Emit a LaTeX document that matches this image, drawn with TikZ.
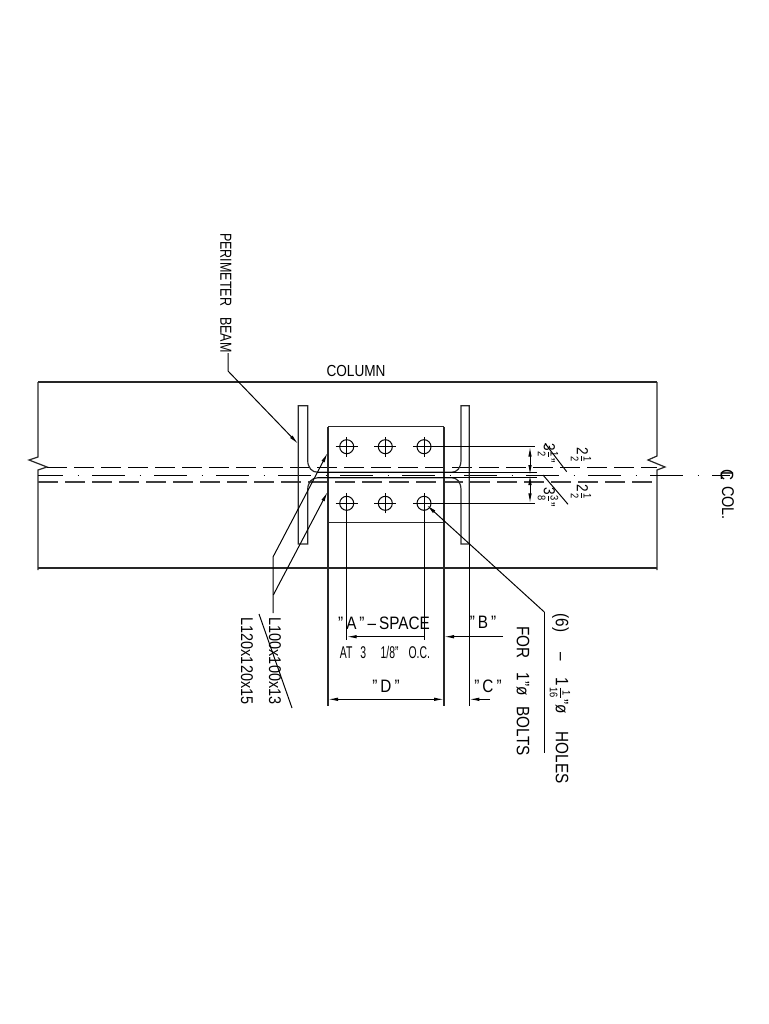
\documentclass[tikz,border=0pt]{standalone}
\usepackage{amsmath}
\usepackage{fontspec}
\setmainfont[FakeStretch=0.85]{Liberation Sans}
\usetikzlibrary{arrows.meta}
\tikzset{
  >={Latex[length=10pt,width=3.5pt]},
}
\tikzstyle{every node}=[inner sep=0pt,font=\fontsize{16}{16}\selectfont]
\tikzstyle{vlbl}=[rotate=-90]
\tikzstyle{big}=[font=\fontsize{18}{18}\selectfont]
\tikzstyle{hole}=[draw,line width=1pt,circle,minimum size=14pt]
\tikzstyle{obj}=[line width=1.2pt,black!85]
\tikzstyle{thin line}=[line width=1pt]
\tikzstyle{hidden}=[line width=1.2pt,dash pattern=on 20pt off 7pt]
\tikzstyle{center line}=[line width=1pt,dash pattern=on 33pt off 14.5pt on .5pt off 14pt,dash phase=8pt]
\newcommand{\frc}[2]{\ensuremath{\genfrac{}{}{.6pt}{}{\mbox{\fontsize{11}{11}\selectfont #1}}{\mbox{\fontsize{11}{11}\selectfont #2}}}}
\begin{document}
\begin{tikzpicture}[x=1pt,y=-1pt]
  \useasboundingbox (0,0) rectangle (768,1024);
  % column with break lines
  \draw[obj] (38,382)--(657,382);
  \draw[obj] (38,568)--(657,568);
  \draw[obj] (38,382)--(38,457)--(29,460)--(47,467)--(38,470)--(38,570);
  \draw[obj] (657,382)--(657,456)--(648,460)--(665,467)--(657,470)--(657,570);
  \draw[hidden] (47,467.3)--(657,467.3);
  \draw[hidden,black!75,line width=1.4pt] (38,482)--(657,482);
  \draw[center line] (38,475)--(730,475);
  % plate
  \draw[obj] (328,426.7)--(444,426.7);
  \draw[obj] (328,522.7)--(444,522.7);
  \draw[obj] (328,426.7)--(328,705.7);
  \draw[obj] (444,426.7)--(444,705.7);
  % angles
  \draw[obj] (307.7,460) .. controls (307.7,468) and (312,472.3) .. (318,472.3)--(451.5,472.3)
    .. controls (457,472.3) and (461,468) .. (461,460)--(461,405.7)--(469.3,405.7)--(469.3,544)--(461,544)--(461,490)
    .. controls (461,482) and (457,477.7) .. (451.5,477.7)--(318,477.7)
    .. controls (312,477.7) and (307.7,482) .. (307.7,490)--(307.7,544)--(298.3,544)--(298.3,405.7)--(307.7,405.7)--cycle;
  \draw[thin line] (469.3,544)--(469.3,705.7);
  % bolt holes
  \foreach \hx/\hn in {346.7/a,385.3/b,424/c}{
    \node[hole] (u\hn) at (\hx,446.7) {};
    \node[hole] (l\hn) at (\hx,503.3) {};
    \draw[thin line] ([xshift=-11pt]u\hn.center)--([xshift=11pt]u\hn.center);
    \draw[thin line] ([yshift=-10pt]u\hn.center)--([yshift=10pt]u\hn.center);
    \draw[thin line] ([xshift=-11pt]l\hn.center)--([xshift=11pt]l\hn.center);
    \draw[thin line] ([yshift=-10pt]l\hn.center)--([yshift=10pt]l\hn.center);
  }
  % labels
  \node (column) at (356,371) {COLUMN};
  \node[vlbl,xscale=.92] (beam) at (226,293) {PERIMETER\hspace{12pt}BEAM};
  \node[vlbl,font=\fontsize{17}{17}\selectfont] (lnew) at (275,661) {L100x100x13};
  \node[vlbl,font=\fontsize{17}{17}\selectfont] (lold) at (247,661) {L120x120x15};
  \node[big] (space) at (384,623) {"\,A\,"\,--\,SPACE};
  \node[font=\fontsize{17}{17}\selectfont,xscale=.72] (oc) at (385,652) {AT\hspace{11pt}3\hspace{20pt}1/8"\hspace{14pt}O.C.};
  \node[big] (dimb) at (483,622) {"\,B\,"};
  \node[big] (dimc) at (488,686) {"\,C\,"};
  \node[big] (dimd) at (386,686) {"\,D\,"};
  \node[vlbl,big] (bolts) at (523,691) {FOR\hspace{14pt}1"ø\hspace{11pt}BOLTS};
  \node[vlbl,big] (holes) at (560,698.5) {(6)\hspace{20pt}--\hspace{17pt}1\frc{1}{16}"ø\hspace{18pt}HOLES};
  \node[vlbl] (ra) at (548,453) {3\frc{1}{2}"};
  \node[vlbl] (rb) at (548,497) {3\frc{3}{8}"};
  \node[vlbl] (rc) at (581,455) {2\frc{1}{2}};
  \node[vlbl] (rd) at (581,492) {2\frc{1}{2}};
  \node[vlbl,big] (cl) at (727,475) {\rlap{C}\kern.12em L};
  \node[vlbl,font=\fontsize{17}{17}\selectfont] (col) at (728,503) {COL.};
  % leaders
  \coordinate (beamtip) at (298.3,444);
  \draw[thin line,->] (228,353)--(228,371)--(beamtip);
  \coordinate (tipa) at (327.7,452.7);
  \coordinate (tipb) at (327.7,491.7);
  \draw[thin line,->] (273,613)--(273,557)--(tipa);
  \draw[thin line,->] (273.3,595)--(tipb);
  \coordinate (holeknee) at (544.3,612);
  \draw[thin line,->] (holeknee)--(426.7,505);
  \draw[thin line] (holeknee)--(544.3,752.7);
  % strike through
  \draw[thin line] (259,614)--(292,708);
  \draw[thin line] (545,443.3)--(566.7,471.7);
  \draw[thin line] (543,475)--(568,504.3);
  % dimensions
  \draw[thin line] (uc)--(535,446.7);
  \draw[thin line] (lc)--(535,503.3);
  \draw[thin line] (318,472.3)--(537,472.3);
  \draw[thin line] (318,477.7)--(537,477.7);
  \draw[thin line,<->] (530,446.7)--(530,475);
  \draw[thin line,<->] (530,475)--(530,503.3);
  \draw[thin line] (la)--(346.7,640);
  \draw[thin line] (lc)--(424,640);
  \draw[thin line,->] (424,636.7)--(346.7,636.7);
  \draw[thin line,->] (503,636.7)--(444,636.7);
  \draw[thin line,<->] (328,699.3)--(444,699.3);
  \draw[thin line,->] (490,699.3)--(469.3,699.3);
\end{tikzpicture}
\end{document}
